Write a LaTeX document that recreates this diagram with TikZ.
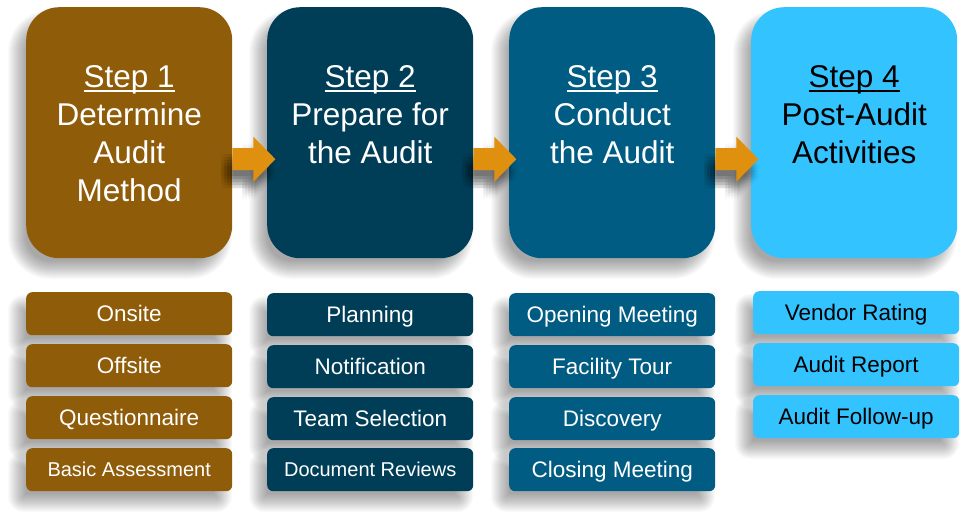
\documentclass[tikz,border=0pt]{standalone}
\usepackage{fontspec}
\setmainfont{Liberation Sans}
\usetikzlibrary{calc}
\definecolor{cBrown}{HTML}{8F5C0A}
\definecolor{cNavy}{HTML}{003E58}
\definecolor{cTeal}{HTML}{005C82}
\definecolor{cSky}{HTML}{33C3FF}
\definecolor{cArrow}{HTML}{DF900F}
\newcommand\stepul[1]{\setbox0\hbox{#1}\rlap{\rule[-5pt]{\wd0}{2pt}}\box0}
% soft shadow: x y w h radius (top-left corner, y downward)
\newcommand\softshadow[5]{%
  \foreach \k in {-9,...,9}{%
    \pgfmathsetmacro\rr{max(0.5,#5+\k)}%
    \fill[shadowlayer, rounded corners=\rr pt] (#1-9-\k, #2+12-\k) rectangle ++(#3+2*\k, #4+2*\k);
  }}
% arrow from the east side of a step box
\newcommand\steparrow[1]{%
  \foreach \dx in {-6,-3,0,3,6}{\foreach \dy in {-6,-3,0,3,6}{%
    \fill[arrowshadow] ($(#1.east)+(-5+\dx,38.5+\dy)$) -- ++(0,-11) -- ++(21,0) -- ++(0,-11.5) -- ++(22,22.5) -- ++(-22,22.5) -- ++(0,-11.5) -- ++(-21,0) -- cycle;
  }}%
  \fill[arrowfill] ($(#1.east)+(0,26.5)$) -- ++(0,-11) -- ++(21,0) -- ++(0,-11.5) -- ++(22,22.5) -- ++(-22,22.5) -- ++(0,-11.5) -- ++(-21,0) -- cycle;
}
\begin{document}
\begin{tikzpicture}[x=1pt,y=-1pt,
 shadowlayer/.style={black, fill opacity=0.019},
 arrowshadow/.style={black, fill opacity=0.026},
 bigbox/.style={rounded corners=33pt, minimum width=206pt, minimum height=251pt, inner sep=0pt, anchor=north west},
 bigtext/.style={anchor=north, inner sep=0pt, align=center, font=\fontsize{31.5}{38}\selectfont},
 smallbox/.style={rounded corners=6pt, minimum width=206pt, minimum height=43pt, inner sep=0pt, anchor=north west, font=\fontsize{22.5}{27}\selectfont, text height=16pt, text depth=0pt},
 smaller/.style={font=\fontsize{20}{24}\selectfont, text height=14.3pt},
 arrowfill/.style={fill=cArrow}]
\fill[white] (0,0) rectangle (970,515);
\useasboundingbox (0,0) rectangle (970,515);
% big step boxes
\softshadow{26}{7}{206}{251}{33}
\softshadow{267}{7}{206}{251}{33}
\softshadow{509}{7}{206}{251}{33}
\softshadow{751}{7}{206}{251}{33}
\node[bigbox, fill=cBrown] (s1) at (26,7) {};
\node[bigbox, fill=cNavy] (s2) at (267,7) {};
\node[bigbox, fill=cTeal] (s3) at (509,7) {};
\node[bigbox, fill=cSky] (s4) at (751,7) {};
\node[bigtext, text=white] (t1) at ($(s1.north)+(0,58)$) {\stepul{Step 1}\\Determine\\Audit\\Method};
\node[bigtext, text=white] (t2) at ($(s2.north)+(0,58)$) {\stepul{Step 2}\\Prepare for\\the Audit};
\node[bigtext, text=white] (t3) at ($(s3.north)+(0,58)$) {\stepul{Step 3}\\Conduct\\the Audit};
\node[bigtext, text=black] (t4) at ($(s4.north)+(0,58)$) {\stepul{Step 4}\\Post-Audit\\Activities};
% arrows
\steparrow{s1}
\steparrow{s2}
\steparrow{s3}
% step 1 items
\softshadow{26}{292}{206}{43}{6}
\node[smallbox, fill=cBrown, text=white] (a1) at (26,292) {Onsite};
\softshadow{26}{344}{206}{43}{6}
\node[smallbox, fill=cBrown, text=white] (a2) at (26,344) {Offsite};
\softshadow{26}{396}{206}{43}{6}
\node[smallbox, fill=cBrown, text=white] (a3) at (26,396) {Questionnaire};
\softshadow{26}{448}{206}{43}{6}
\node[smallbox, smaller, fill=cBrown, text=white] (a4) at (26,448) {Basic Assessment};
% step 2 items
\softshadow{267}{293}{206}{43}{6}
\node[smallbox, fill=cNavy, text=white] (b1) at (267,293) {Planning};
\softshadow{267}{345}{206}{43}{6}
\node[smallbox, fill=cNavy, text=white] (b2) at (267,345) {Notification};
\softshadow{267}{397}{206}{43}{6}
\node[smallbox, fill=cNavy, text=white] (b3) at (267,397) {Team Selection};
\softshadow{267}{448}{206}{43}{6}
\node[smallbox, smaller, fill=cNavy, text=white] (b4) at (267,448) {Document Reviews};
% step 3 items
\softshadow{509}{293}{206}{43}{6}
\node[smallbox, fill=cTeal, text=white] (c1) at (509,293) {Opening Meeting};
\softshadow{509}{345}{206}{43}{6}
\node[smallbox, fill=cTeal, text=white] (c2) at (509,345) {Facility Tour};
\softshadow{509}{397}{206}{43}{6}
\node[smallbox, fill=cTeal, text=white] (c3) at (509,397) {Discovery};
\softshadow{509}{448}{206}{43}{6}
\node[smallbox, fill=cTeal, text=white] (c4) at (509,448) {Closing Meeting};
% step 4 items
\softshadow{753}{291}{206}{43}{6}
\node[smallbox, fill=cSky, text=black] (d1) at (753,291) {Vendor Rating};
\softshadow{753}{343}{206}{43}{6}
\node[smallbox, fill=cSky, text=black] (d2) at (753,343) {Audit Report};
\softshadow{753}{395}{206}{43}{6}
\node[smallbox, fill=cSky, text=black] (d3) at (753,395) {Audit Follow-up};
\end{tikzpicture}
\end{document}
